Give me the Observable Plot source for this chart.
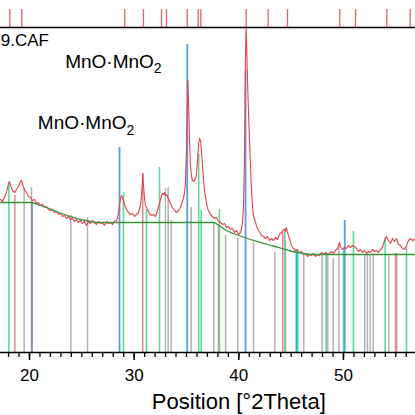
<!DOCTYPE html>
<html>
<head>
<meta charset="utf-8">
<script src="https://cdn.jsdelivr.net/npm/d3@7"></script>
<script src="https://cdn.jsdelivr.net/npm/@observablehq/plot@0.6"></script>
<style>
  html, body { margin: 0; padding: 0; background: #fff; }
  #chart svg { display: block; }
</style>
</head>
<body>
<div id="chart"></div>
<script>
// Diffraction scan, 2θ window shown
const xDomain = [17.23, 56.88];
const yMax = 3250;                 // counts at the top frame of the scan panel
const majorTicks = [20, 30, 40, 50];
const minorTicks = d3.range(18, 57);

// Reference pattern strip above the scan (peak positions, °2θ)
const refPattern = [18.12, 19.26, 29.10, 30.89, 32.61, 33.09, 35.07, 36.12, 36.37,
  40.70, 42.80, 44.65, 49.65, 51.15, 54.14, 56.37];

// Measured scan: [°2θ, counts]
const scan = [
  [17.23,1530],[17.42,1510],[17.61,1550],[17.80,1600],[17.99,1690],[18.09,1710],[18.18,1670],
  [18.38,1620],[18.57,1600],[18.76,1630],[18.95,1660],[19.14,1710],[19.24,1720],[19.33,1680],
  [19.52,1630],[19.71,1600],[19.90,1560],[20.10,1550],[20.29,1520],[20.48,1530],[20.67,1490],
  [20.86,1500],[21.05,1470],[21.24,1480],[21.43,1450],[21.62,1460],[21.81,1430],[22.01,1420],
  [22.20,1430],[22.39,1400],[22.58,1410],[22.77,1380],[22.96,1390],[23.15,1360],[23.34,1370],
  [23.53,1340],[23.73,1360],[23.92,1330],[24.11,1340],[24.30,1310],[24.49,1330],[24.68,1300],
  [24.87,1320],[25.06,1290],[25.25,1310],[25.45,1270],[25.64,1310],[25.83,1290],[26.02,1320],
  [26.21,1300],[26.40,1280],[26.59,1310],[26.78,1290],[26.97,1300],[27.16,1270],[27.36,1310],
  [27.55,1290],[27.74,1300],[27.93,1280],[28.12,1310],[28.31,1320],[28.41,1340],[28.50,1400],
  [28.60,1470],[28.69,1540],[28.79,1570],[28.88,1550],[28.98,1520],[29.08,1480],[29.27,1430],
  [29.46,1400],[29.65,1380],[29.84,1390],[30.03,1360],[30.22,1380],[30.41,1400],[30.60,1470],
  [30.70,1570],[30.80,1720],[30.84,1790],[30.89,1670],[30.99,1540],[31.08,1470],[31.27,1430],
  [31.46,1390],[31.66,1370],[31.85,1380],[32.04,1360],[32.23,1420],[32.42,1490],[32.61,1570],
  [32.71,1590],[32.80,1580],[32.90,1600],[32.99,1570],[33.09,1580],[33.28,1540],[33.47,1490],
  [33.66,1450],[33.85,1420],[34.04,1400],[34.23,1420],[34.43,1450],[34.62,1510],[34.81,1590],
  [34.90,1690],[35.00,2020],[35.07,2420],[35.14,2720],[35.22,2420],[35.29,2120],[35.38,1870],
  [35.48,1760],[35.57,1720],[35.72,1710],[35.86,1740],[35.96,1780],[36.05,1920],[36.15,2070],
  [36.24,2140],[36.34,2120],[36.43,2020],[36.53,1870],[36.62,1740],[36.72,1620],[36.81,1560],
  [36.91,1490],[37.01,1440],[37.10,1420],[37.29,1380],[37.48,1360],[37.67,1340],[37.86,1350],
  [38.06,1310],[38.25,1300],[38.44,1280],[38.63,1290],[38.82,1250],[39.01,1260],[39.20,1230],
  [39.39,1240],[39.59,1200],[39.78,1220],[39.97,1180],[40.16,1200],[40.25,1230],[40.35,1300],
  [40.45,1470],[40.52,1820],[40.59,2420],[40.65,3020],[40.70,3250],[40.76,3020],[40.83,2720],
  [40.92,2420],[41.02,2120],[41.11,1870],[41.21,1620],[41.30,1470],[41.40,1370],[41.59,1300],
  [41.78,1240],[41.97,1210],[42.16,1170],[42.36,1160],[42.55,1140],[42.74,1160],[42.93,1120],
  [43.12,1140],[43.31,1120],[43.50,1150],[43.69,1130],[43.88,1180],[44.08,1200],[44.27,1230],
  [44.46,1210],[44.55,1250],[44.65,1200],[44.84,1140],[45.03,1070],[45.22,1040],[45.41,1020],
  [45.60,1030],[45.79,1000],[45.99,1010],[46.18,980],[46.37,990],[46.56,960],[46.75,980],
  [46.94,970],[47.13,990],[47.32,960],[47.51,980],[47.71,970],[47.90,1000],[48.09,980],
  [48.28,1000],[48.47,980],[48.66,990],[48.85,1010],[49.04,990],[49.23,1020],[49.43,1040],
  [49.62,1100],[49.71,1060],[49.90,1030],[50.09,1050],[50.29,1040],[50.48,1070],[50.67,1050],
  [50.86,1070],[51.05,1060],[51.24,1040],[51.43,1010],[51.62,1030],[51.81,1000],[52.01,1020],
  [52.20,990],[52.39,1010],[52.58,1000],[52.77,1030],[52.96,1010],[53.15,1020],[53.34,1000],
  [53.53,1030],[53.72,1050],[53.92,1120],[54.11,1160],[54.30,1120],[54.49,1090],[54.68,1140],
  [54.87,1110],[55.06,1140],[55.25,1080],[55.44,1070],[55.64,1040],[55.83,1030],[56.02,1070],
  [56.21,1120],[56.40,1140],[56.59,1120],[56.78,1130],[56.88,1120]
];

// Fitted background: [°2θ, counts]
const background = [
  [17.23,1500],[20.19,1500],[21.05,1470],[22.01,1435],[22.96,1395],[23.92,1360],[24.87,1330],
  [25.83,1310],[26.78,1300],[28.41,1300],[37.58,1300],[38.25,1260],[38.82,1220],[39.49,1190],
  [40.83,1140],[41.78,1110],[42.74,1080],[43.98,1045],[44.94,1015],[45.89,995],[46.85,980],
  [56.88,980]
];

// Phase stick patterns: [°2θ, counts]
const phaseGray = [
  [19.49,1650],[20.19,1650],[23.95,1370],[25.54,1350],[32.99,1640],[33.25,1650],[33.54,1320],
  [35.45,1450],[37.61,1300],[38.73,1170],[39.90,1140],[41.40,1100],[43.44,1000],[44.46,1120],
  [46.21,970],[47.96,990],[48.50,990],[49.02,940],[49.55,1070],[52.03,970],[52.29,970],
  [52.55,970],[52.84,970],[54.33,970],[55.09,990]
];
const phaseRed = [[18.60,1570],[30.82,1790],[38.06,1270],[44.20,1200],[54.97,990]];
const phaseGreen = [
  [18.02,1700],[28.98,1600],[31.18,1430],[32.42,1850],[36.17,1990],[36.40,1420],[38.15,1430],
  [44.39,1240],[45.63,1010],[48.35,990],[50.00,1020],[50.95,1210],[53.98,1150],[56.02,1050]
];
const phaseBlue = [[28.60,2050],[35.07,3080],[40.64,2820],[50.12,1320]];
const phaseTeal = [[45.51,1020]];
const phaseSteel = [[20.24,1520]];

// Text annotations
const peakLabels = [
  {x: 31.88, y: 2850, main: "MnO·MnO", sub: "2", subY: 2800},
  {x: 29.27, y: 2240, main: "MnO·MnO", sub: "2", subY: 2180}
];
const patternName = [{x: 17.25, y: 3070, t: "9.CAF"}];
const axisTitle = [{x: 40, t: "Position [°2Theta]"}];

const font = "'Liberation Sans', Arial, Helvetica, sans-serif";
const pos = d => d[0];
const val = d => d[1];
const sticks = (data, color, w = 1.5) =>
  Plot.ruleX(data, {x: pos, y1: () => 0, y2: val, stroke: color, strokeWidth: w});

const strip = Plot.plot({
  width: 415, height: 27,
  marginTop: 9, marginBottom: 0, marginLeft: 0, marginRight: 0,
  style: {fontFamily: font, background: "transparent", overflow: "visible"},
  x: {domain: xDomain, axis: null},
  y: {domain: [0, 1], axis: null},
  marks: [
    Plot.ruleX(refPattern, {x: d => d, y1: () => 0, y2: () => 1, stroke: "#e0646a", strokeWidth: 1.3})
  ]
});

const main = Plot.plot({
  width: 415, height: 388,
  marginTop: 0, marginBottom: 63, marginLeft: 0, marginRight: 0,
  style: {fontFamily: font, background: "transparent", overflow: "visible", color: "#000"},
  x: {domain: xDomain},
  y: {domain: [0, yMax], axis: null},
  marks: [
    sticks(phaseGray, "#b3b3b3", 1.5),
    sticks(phaseRed, "#e8858a", 1.5),
    sticks(phaseGreen, "#62d99b", 1.6),
    sticks(phaseSteel, "#6f8fb3", 1.6),
    sticks(phaseTeal, "#2bb3c6", 1.8),
    sticks(phaseBlue, "#5a9fe0", 1.8),
    Plot.line(scan, {x: pos, y: val, stroke: "#e6434d", strokeWidth: 1.1}),
    Plot.line(background, {x: pos, y: val, stroke: "#3f8f3c", strokeWidth: 1.3, curve: "monotone-x"}),
    Plot.ruleY([yMax], {stroke: "#000", strokeWidth: 1.6}),
    Plot.ruleY([0], {stroke: "#000", strokeWidth: 1.6}),
    Plot.axisX({ticks: minorTicks, tickSize: 5, tickFormat: () => "", label: null, strokeWidth: 1.3}),
    Plot.axisX({ticks: majorTicks, tickSize: 8, tickPadding: 8, fontSize: 17, label: null,
      strokeWidth: 1.5, tickFormat: d => String(d)}),
    Plot.text(axisTitle, {x: "x", text: "t", frameAnchor: "bottom", dy: 56,
      lineAnchor: "bottom", fontSize: 22, fill: "#000"}),
    Plot.text(patternName, {x: "x", y: "y", text: "t", textAnchor: "start",
      lineAnchor: "bottom", fontSize: 17, fill: "#000"}),
    Plot.text(peakLabels, {x: "x", y: "y", text: "main", textAnchor: "end",
      lineAnchor: "bottom", fontSize: 19, fill: "#000"}),
    Plot.text(peakLabels, {x: "x", y: "subY", text: "sub", textAnchor: "start",
      lineAnchor: "bottom", fontSize: 14, fill: "#000"})
  ]
});

const root = document.getElementById("chart");
root.appendChild(strip);
root.appendChild(main);
</script>
</body>
</html>
